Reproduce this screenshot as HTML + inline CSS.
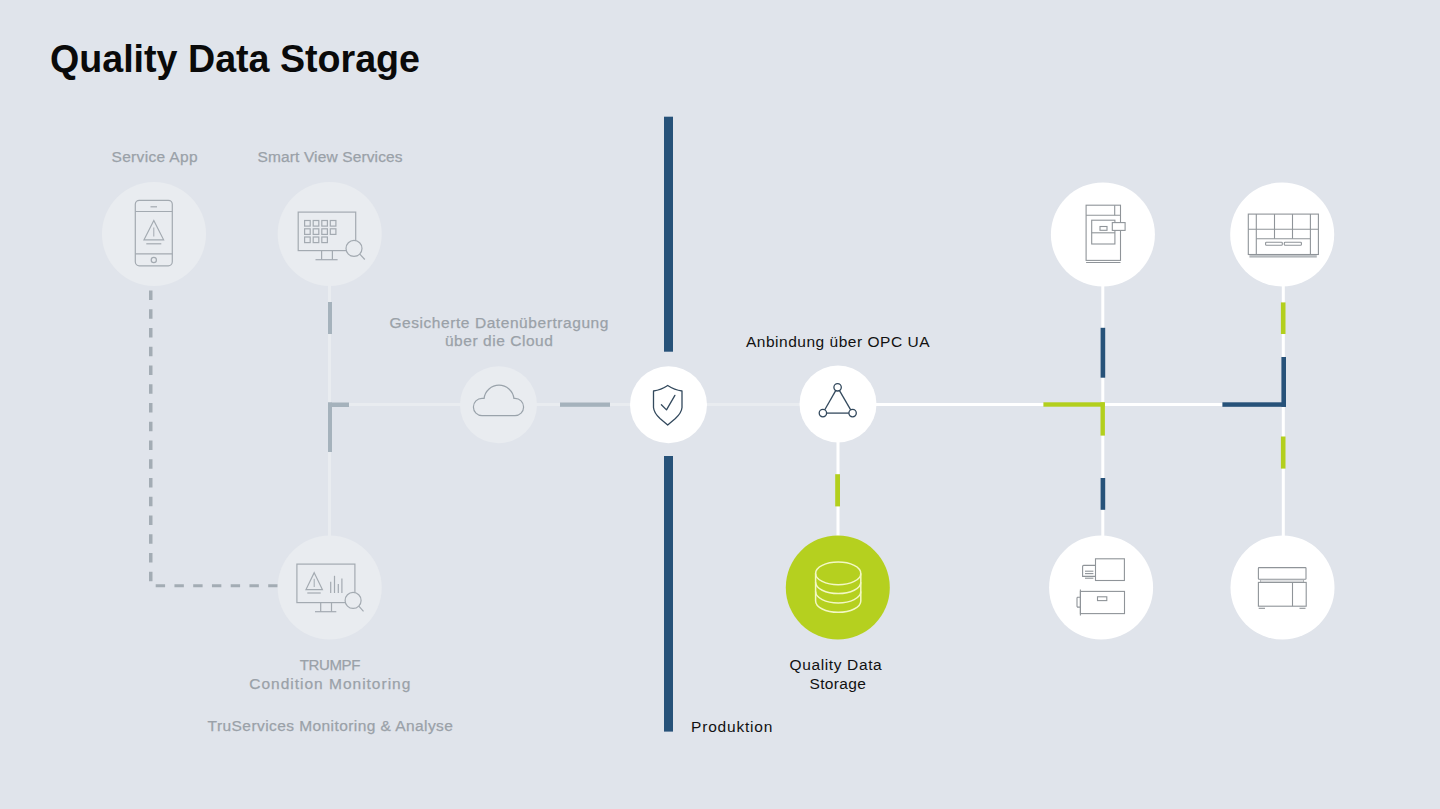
<!DOCTYPE html>
<html><head><meta charset="utf-8">
<style>
html,body{margin:0;padding:0;width:1440px;height:809px;overflow:hidden;background:#e0e4eb;}
svg{display:block;position:absolute;left:0;top:0;}
text{font-family:"Liberation Sans",sans-serif;}
.g{fill:#9aa1a8;font-size:15.5px;stroke:#9aa1a8;stroke-width:0.25px;}
.k{fill:#111;font-size:15.5px;}
</style></head><body>
<svg width="1440" height="809" viewBox="0 0 1440 809">
<rect x="0" y="0" width="1440" height="809" fill="#e0e4eb"/>
<!-- light lines left -->
<g fill="#e9ecf0">
<rect x="328" y="234" width="3" height="354"/>
<rect x="329.5" y="403" width="339" height="3"/>
<rect x="668" y="403" width="170" height="3"/>
</g>
<!-- white lines right -->
<g fill="#ffffff">
<rect x="838" y="403" width="446" height="3"/>
<rect x="836.5" y="404" width="3" height="184"/>
<rect x="1101.3" y="234" width="3" height="354"/>
<rect x="1281.8" y="234" width="3" height="354"/>
</g>
<!-- gray segments -->
<g fill="#a5b2bc">
<rect x="328" y="302" width="4" height="32"/>
<rect x="328" y="402.5" width="4" height="49.5"/>
<rect x="328" y="402.5" width="21" height="4.5"/>
<rect x="560" y="402.5" width="50" height="4.3"/>
</g>
<!-- dashed -->
<line x1="150.75" y1="290.5" x2="150.75" y2="582" stroke="#a3acb4" stroke-width="3.5" stroke-dasharray="9.5 9.25"/>
<line x1="155.7" y1="585.7" x2="278" y2="585.7" stroke="#a3acb4" stroke-width="3" stroke-dasharray="9.4 9.35"/>
<!-- dark blue bars -->
<g fill="#275279">
<rect x="664" y="116.7" width="9" height="235"/>
<rect x="664" y="456" width="9" height="275.6"/>
</g>
<!-- colored segments -->
<g fill="#b3cf1d">
<rect x="835.2" y="474.2" width="4.8" height="32.2"/>
<rect x="1043.4" y="402.3" width="61.2" height="4.4"/>
<rect x="1100.5" y="402.3" width="4.4" height="33.3"/>
<rect x="1280.9" y="302.4" width="4.6" height="31.6"/>
<rect x="1280.9" y="436.5" width="4.6" height="32.1"/>
</g>
<g fill="#275279">
<rect x="1100.6" y="327.8" width="4.6" height="49.9"/>
<rect x="1100.6" y="478" width="4.6" height="31.8"/>
<rect x="1281.4" y="357" width="4.6" height="49.8"/>
<rect x="1222.4" y="402.3" width="63.6" height="4.5"/>
</g>
<!-- circles -->
<g fill="#e9ecf0">
<circle cx="154" cy="234" r="52"/>
<circle cx="329.7" cy="234" r="52"/>
<circle cx="329.7" cy="587.5" r="52"/>
<circle cx="498.5" cy="404.7" r="38.5"/>
</g>
<g fill="#ffffff">
<circle cx="668.5" cy="404.7" r="38.5"/>
<circle cx="838" cy="404" r="38.5"/>
<circle cx="1102.9" cy="234.4" r="52"/>
<circle cx="1282.2" cy="234.4" r="52"/>
<circle cx="1101.1" cy="587.4" r="52"/>
<circle cx="1282.5" cy="587.4" r="52"/>
</g>
<circle cx="837.8" cy="587.4" r="52" fill="#b5d01f"/>

<!-- ICONS -->
<!-- phone -->
<g fill="none" stroke="#a3aab1" stroke-width="1.2">
<rect x="135.3" y="200.3" width="37" height="65.5" rx="4"/>
<line x1="135.3" y1="211.5" x2="172.3" y2="211.5"/>
<line x1="135.3" y1="253.8" x2="172.3" y2="253.8"/>
<line x1="150.5" y1="206.8" x2="157" y2="206.8"/>
<circle cx="153.8" cy="260" r="2.6"/>
<path d="M153.8 220.5 L163.6 239.8 L144 239.8 Z" stroke-linejoin="miter"/>
<line x1="153.8" y1="227.5" x2="153.8" y2="236.5" stroke-width="1"/>
<line x1="146.3" y1="243.8" x2="161.3" y2="243.8"/>
</g>
<!-- smart view monitor -->
<g fill="none" stroke="#a3aab1" stroke-width="1.2">
<rect x="298.2" y="212.1" width="57.5" height="38.5"/>
<line x1="321.6" y1="250.6" x2="321.6" y2="259.7"/>
<line x1="332.4" y1="250.6" x2="332.4" y2="259.7"/>
<line x1="315.5" y1="259.7" x2="337.6" y2="259.7"/>
<g>
<rect x="304.6" y="220.5" width="5.6" height="5.6"/><rect x="313.2" y="220.5" width="5.6" height="5.6"/><rect x="321.8" y="220.5" width="5.6" height="5.6"/><rect x="330.3" y="220.5" width="5.6" height="5.6"/>
<rect x="304.6" y="228.8" width="5.6" height="5.6"/><rect x="313.2" y="228.8" width="5.6" height="5.6"/><rect x="321.8" y="228.8" width="5.6" height="5.6"/><rect x="330.3" y="228.8" width="5.6" height="5.6"/>
<rect x="304.6" y="237" width="5.6" height="5.6"/><rect x="313.2" y="237" width="5.6" height="5.6"/><rect x="321.8" y="237" width="5.6" height="5.6"/>
</g>
<circle cx="354" cy="248.4" r="8" fill="#e9ecf0"/>
<line x1="359.8" y1="254.2" x2="364.8" y2="259.5"/>
</g>
<!-- TCM monitor -->
<g fill="none" stroke="#a3aab1" stroke-width="1.2">
<rect x="296.9" y="564.1" width="58" height="38.5"/>
<line x1="320.7" y1="602.6" x2="320.7" y2="611.7"/>
<line x1="331.5" y1="602.6" x2="331.5" y2="611.7"/>
<line x1="315" y1="611.7" x2="336.3" y2="611.7"/>
<path d="M314.2 572.7 L322.4 589.6 L306 589.6 Z"/>
<line x1="314.2" y1="578.8" x2="314.2" y2="587" stroke-width="1"/>
<line x1="307.3" y1="593" x2="320.7" y2="593"/>
<line x1="330.7" y1="581.8" x2="330.7" y2="593"/>
<line x1="334.5" y1="575.8" x2="334.5" y2="593"/>
<line x1="338.3" y1="584" x2="338.3" y2="593"/>
<line x1="341.9" y1="578.4" x2="341.9" y2="593"/>
<circle cx="353.1" cy="600.4" r="8" fill="#e9ecf0"/>
<line x1="358.8" y1="606.2" x2="363.5" y2="611.3"/>
</g>
<!-- cloud -->
<path d="M482 415.6 L515 415.6 A8.6 8.6 0 0 0 515 398.4 L513.9 398.4 A15 15 0 0 0 484.1 398.4 L482 398.4 A8.6 8.6 0 0 0 482 415.6 Z" fill="none" stroke="#9aa3ab" stroke-width="1.2"/>
<!-- shield -->
<g fill="none" stroke="#33495d" stroke-width="1.3" stroke-linejoin="round" stroke-linecap="round">
<path d="M667.7 385.5 Q661 390 653.5 391 L653.5 407.5 Q654 413 660 418.5 L667.7 425 L675.4 418.5 Q681.5 413 682 407.5 L682 391 Q674.5 390 667.7 385.5 Z"/>
<path d="M661.4 404.7 L666.5 409.9 L674.9 395.4"/>
</g>
<!-- triangle -->
<g fill="none" stroke="#33495d" stroke-width="1.3">
<circle cx="837.6" cy="387.3" r="3.7"/>
<circle cx="822.9" cy="413.1" r="3.7"/>
<circle cx="852.6" cy="413.1" r="3.7"/>
<line x1="835.7" y1="390.6" x2="824.8" y2="409.8"/>
<line x1="839.5" y1="390.6" x2="850.7" y2="409.8"/>
<line x1="826.6" y1="413.1" x2="848.9" y2="413.1"/>
</g>
<!-- database -->
<g fill="none" stroke="#f3f8c4" stroke-width="1.5">
<ellipse cx="838.2" cy="573.4" rx="22.6" ry="11.3"/>
<path d="M815.6 573.4 L815.6 601 A22.6 11.3 0 0 0 860.8 601 L860.8 573.4"/>
<path d="M815.6 582.3 A22.6 11.3 0 0 0 860.8 582.3"/>
<path d="M815.6 591.6 A22.6 11.3 0 0 0 860.8 591.6"/>
</g>
<!-- machine 1 -->
<g fill="none" stroke="#8f9499" stroke-width="1.1">
<rect x="1086.1" y="205.2" width="34.4" height="55.2"/>
<line x1="1086.1" y1="215.2" x2="1120.5" y2="215.2"/>
<line x1="1114.7" y1="205.2" x2="1114.7" y2="215.2"/>
<line x1="1086.1" y1="262.5" x2="1120.5" y2="262.5"/>
<rect x="1091.7" y="220.2" width="23.2" height="23.8"/>
<line x1="1091.7" y1="232.8" x2="1114.9" y2="232.8"/>
<rect x="1100" y="226.5" width="7" height="3.8"/>
<rect x="1112.3" y="222.6" width="12.8" height="7.8" fill="#fff"/>
</g>
<!-- machine 2 -->
<g fill="none" stroke="#8f9499" stroke-width="1.1">
<rect x="1248.3" y="214.1" width="70.1" height="40.4"/>
<line x1="1256.3" y1="214.1" x2="1256.3" y2="254.5"/>
<line x1="1310.4" y1="214.1" x2="1310.4" y2="254.5"/>
<line x1="1274.5" y1="214.1" x2="1274.5" y2="238.7"/>
<line x1="1292.5" y1="214.1" x2="1292.5" y2="238.7"/>
<line x1="1248.3" y1="229.3" x2="1318.4" y2="229.3"/>
<line x1="1256.3" y1="238.7" x2="1310.4" y2="238.7"/>
<rect x="1265.6" y="242.3" width="16.7" height="2.9" rx="0.8"/>
<rect x="1284.3" y="242.3" width="17.1" height="2.9" rx="0.8"/>
<rect x="1249.4" y="255.2" width="67.4" height="2.4" fill="#b4b8bc" stroke="none"/>
</g>
<!-- machine 3 -->
<g fill="none" stroke="#8f9499" stroke-width="1.1">
<rect x="1095.5" y="558.8" width="28.9" height="21.7"/>
<path d="M1095.5 565.4 L1083.6 565.4 Q1082.6 565.4 1082.6 566.4 L1082.6 576.4 L1095.5 576.4"/>
<line x1="1085" y1="571.2" x2="1093.4" y2="571.2"/>
<line x1="1085" y1="573.6" x2="1093.4" y2="573.6"/>
<line x1="1085" y1="578.2" x2="1093.4" y2="578.2"/>
<rect x="1080.4" y="591.4" width="44.1" height="22.2"/>
<line x1="1080.4" y1="589.4" x2="1080.4" y2="615.4"/>
<path d="M1080.4 597.2 L1077.5 597.2 L1077 598 L1077 606.4 L1077.5 607.1 L1080.4 607.1"/>
<rect x="1097.5" y="596.8" width="9.3" height="3.8"/>
</g>
<!-- machine 4 -->
<g fill="none" stroke="#8f9499" stroke-width="1.1">
<rect x="1258.4" y="567.6" width="47.6" height="11.7" rx="0.6"/>
<rect x="1260.6" y="579.9" width="43" height="2.2" stroke="#a9adb1" stroke-width="0.9"/>
<rect x="1258.4" y="582.4" width="47.8" height="23.8"/>
<line x1="1292.5" y1="582.4" x2="1292.5" y2="606.2"/>
<line x1="1258.7" y1="608.3" x2="1265" y2="608.3"/>
<line x1="1299.5" y1="608.3" x2="1305.5" y2="608.3"/>
</g>

<!-- TEXT -->
<text x="50" y="71.9" font-size="38" font-weight="700" fill="#0a0a0a" textLength="370" lengthAdjust="spacingAndGlyphs">Quality Data Storage</text>
<text class="g" x="154.5" y="162" text-anchor="middle" textLength="86" lengthAdjust="spacing">Service App</text>
<text class="g" x="330" y="161.7" text-anchor="middle" textLength="145" lengthAdjust="spacing">Smart View Services</text>
<text class="g" x="498.9" y="327.5" text-anchor="middle" textLength="219" lengthAdjust="spacing">Gesicherte Datenübertragung</text>
<text class="g" x="498.9" y="346.3" text-anchor="middle" textLength="108" lengthAdjust="spacing">über die Cloud</text>
<text class="k" x="837.7" y="346.6" text-anchor="middle" textLength="183.6" lengthAdjust="spacing">Anbindung über OPC UA</text>
<text class="k" x="835.6" y="670" text-anchor="middle" textLength="92.2" lengthAdjust="spacing">Quality Data</text>
<text class="k" x="837.7" y="689" text-anchor="middle" textLength="56.4" lengthAdjust="spacing">Storage</text>
<text class="g" style="font-size:15px" x="330" y="669.9" text-anchor="middle" textLength="60.6" lengthAdjust="spacing">TRUMPF</text>
<text class="g" x="329.8" y="688.8" text-anchor="middle" textLength="161" lengthAdjust="spacing">Condition Monitoring</text>
<text class="g" x="330.25" y="731.3" text-anchor="middle" textLength="245.3" lengthAdjust="spacing">TruServices Monitoring &amp; Analyse</text>
<text class="k" x="691" y="731.6" textLength="81.4" lengthAdjust="spacing">Produktion</text>
</svg>
</body></html>
